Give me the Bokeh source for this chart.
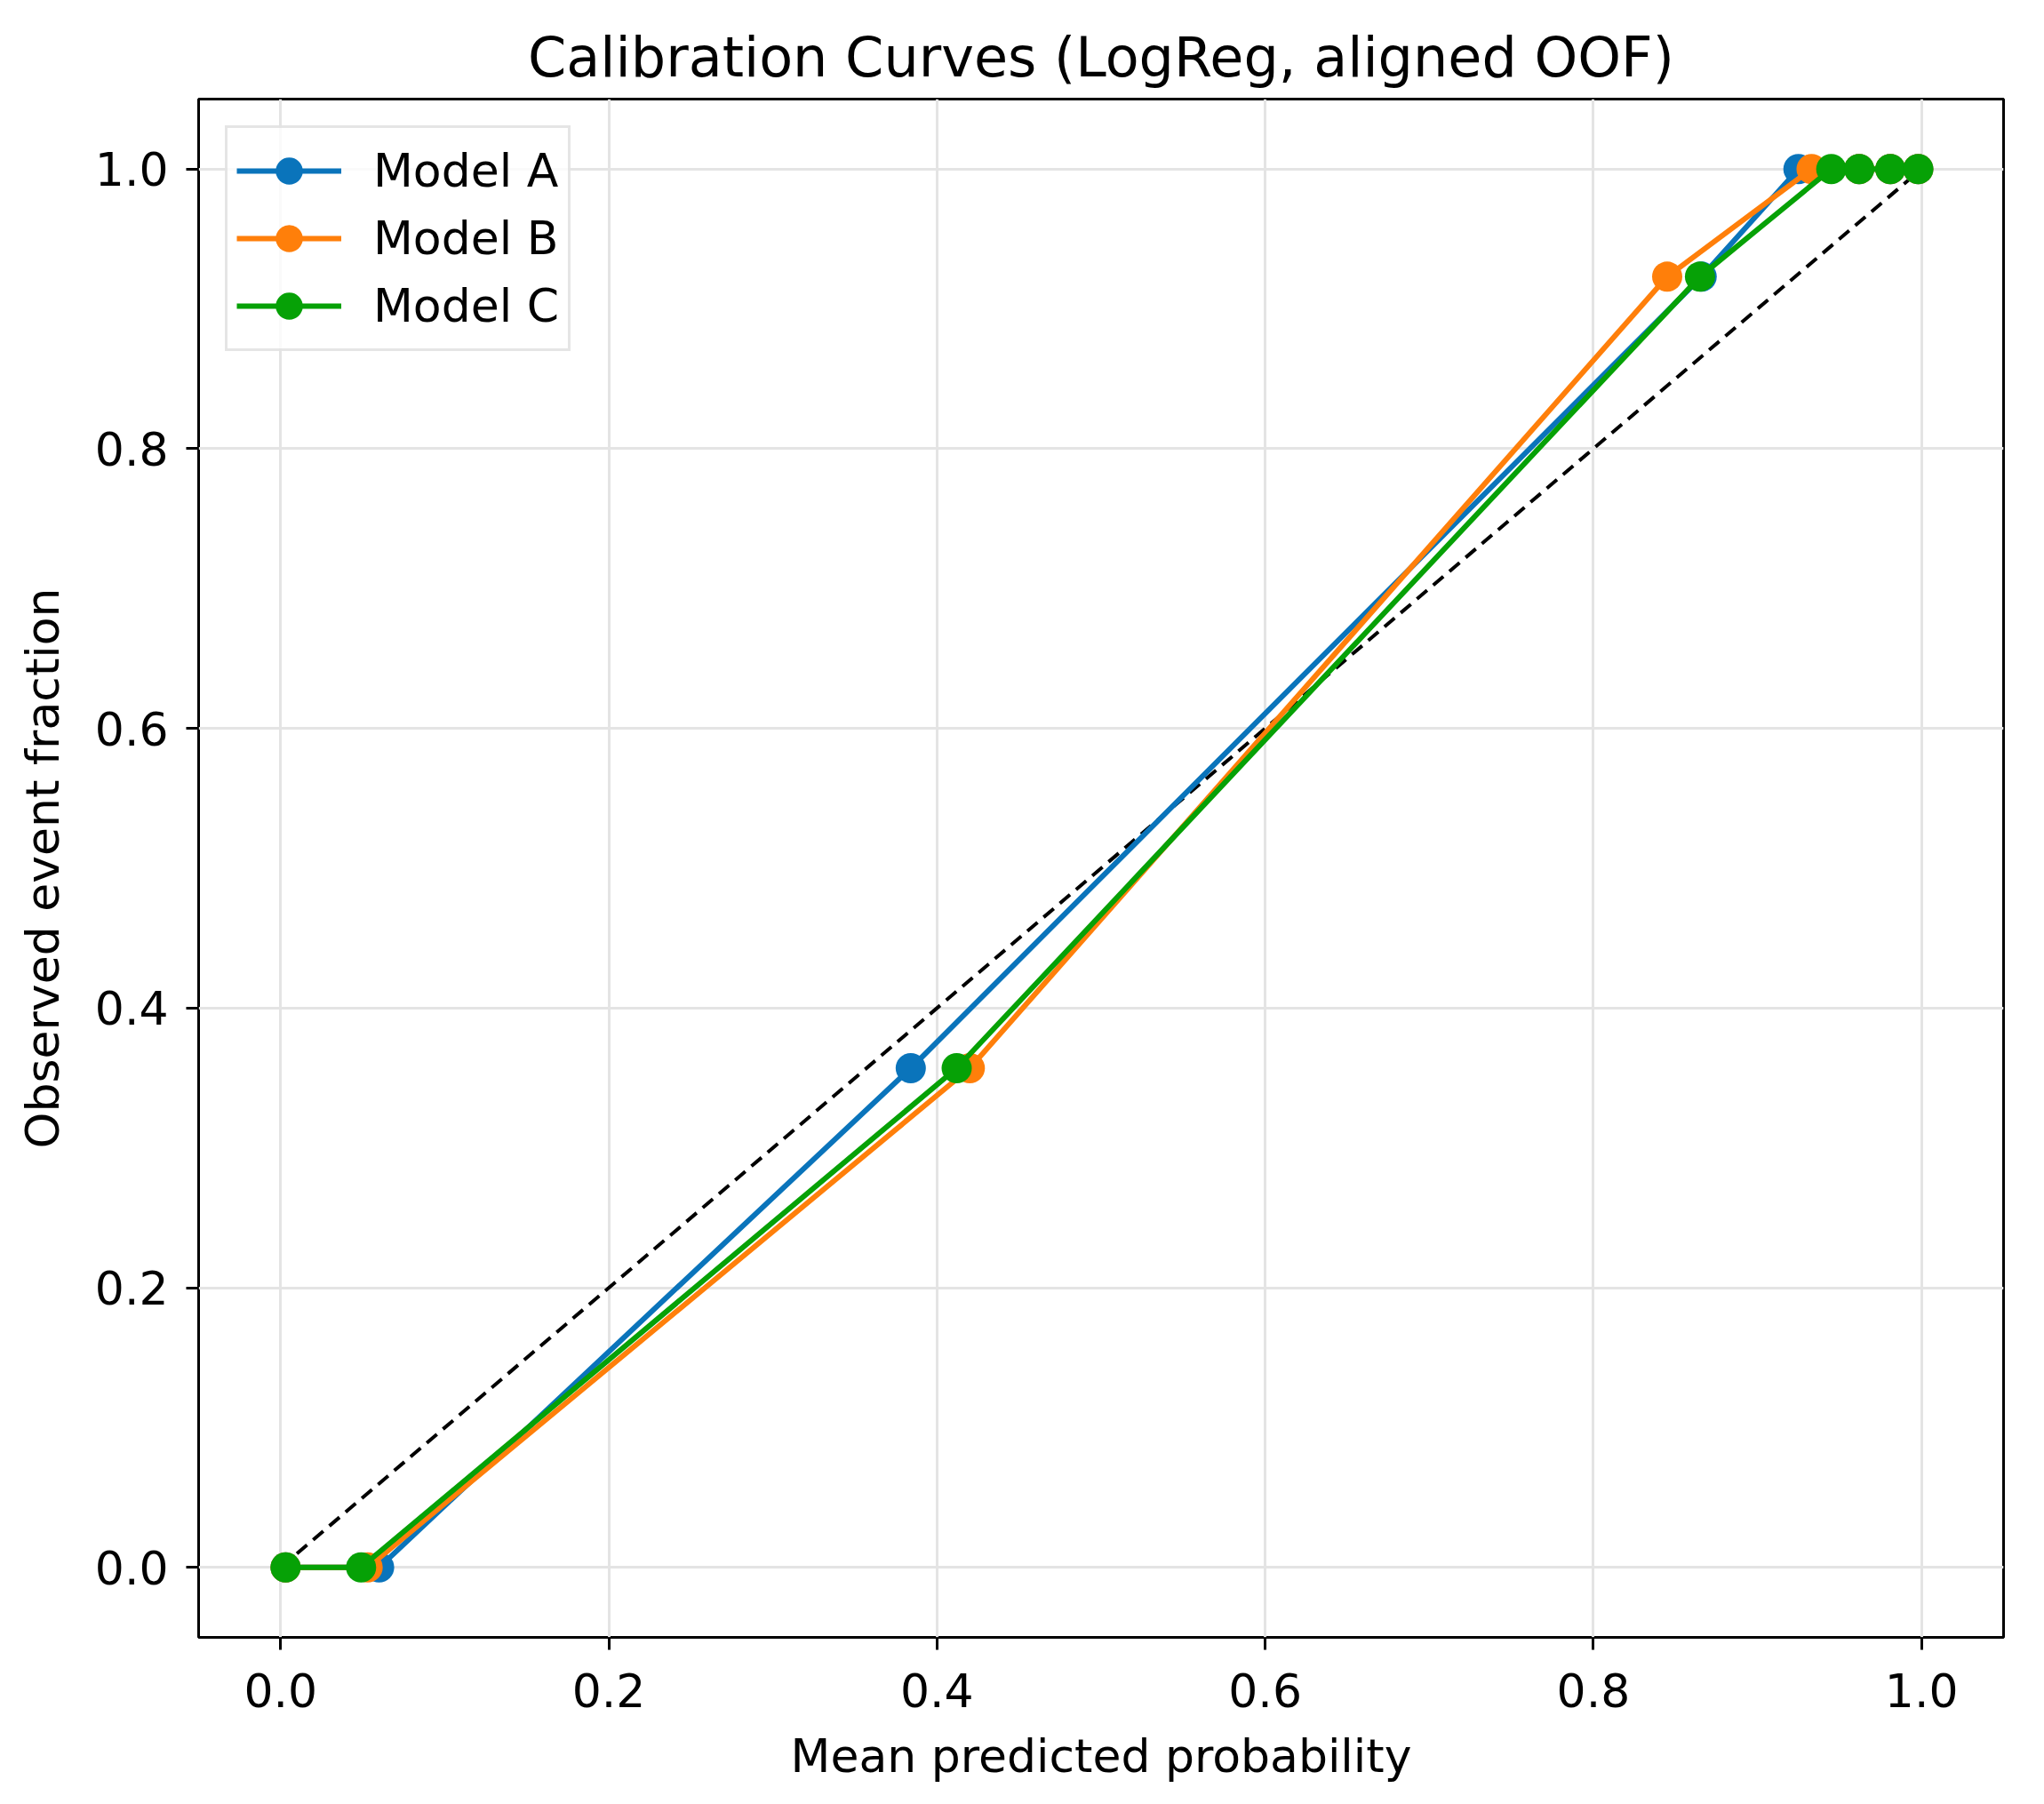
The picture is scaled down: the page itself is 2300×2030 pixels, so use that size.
from bokeh.plotting import figure
from bokeh.models import Range1d, FixedTicker, PrintfTickFormatter
from bokeh.embed import file_html
from bokeh.resources import INLINE

# ---- data ----
ticks = [0.0, 0.2, 0.4, 0.6, 0.8, 1.0]
diag_x = [0.0, 1.0]
diag_y = [0.0, 1.0]

a_x = [0.003, 0.060, 0.384, 0.866, 0.925, 0.962, 0.981, 0.998]
a_y = [0.0, 0.0, 0.357, 0.923, 1.0, 1.0, 1.0, 1.0]
b_x = [0.003, 0.053, 0.420, 0.845, 0.933, 0.962, 0.981, 0.998]
b_y = [0.0, 0.0, 0.357, 0.923, 1.0, 1.0, 1.0, 1.0]
c_x = [0.003, 0.049, 0.412, 0.865, 0.945, 0.962, 0.981, 0.998]
c_y = [0.0, 0.0, 0.357, 0.923, 1.0, 1.0, 1.0, 1.0]

series = [
    ("Model A", a_x, a_y, "#0a74bb"),
    ("Model B", b_x, b_y, "#ff7f0a"),
    ("Model C", c_x, c_y, "#06a106"),
]

FONT = "DejaVu Sans"

p = figure(width=2300, height=2030, output_backend="svg", toolbar_location=None,
           x_range=Range1d(-0.05, 1.05), y_range=Range1d(-0.05, 1.05),
           min_border_left=223, min_border_right=46, min_border_top=111,
           min_border_bottom=188,
           title="Calibration Curves (LogReg, aligned OOF)")

p.title.text_font = FONT
p.title.text_font_size = "62px"
p.title.text_font_style = "normal"
p.title.align = "center"
p.title.text_color = "black"
p.title.standoff = 22

p.background_fill_color = "white"
p.border_fill_color = "white"
p.outline_line_color = "black"
p.outline_line_width = 3
p.outline_line_alpha = 1.0

for ax in (p.xaxis[0], p.yaxis[0]):
    ax.ticker = FixedTicker(ticks=ticks)
    ax.formatter = PrintfTickFormatter(format="%.1f")
    ax.axis_line_color = None
    ax.major_tick_line_color = "black"
    ax.major_tick_line_width = 3
    ax.major_tick_out = 14
    ax.major_tick_in = 0
    ax.minor_tick_line_color = None
    ax.major_label_text_font = FONT
    ax.major_label_text_font_size = "52px"
    ax.major_label_text_color = "black"
    ax.axis_label_text_font = FONT
    ax.axis_label_text_font_size = "52px"
    ax.axis_label_text_font_style = "normal"
    ax.axis_label_text_color = "black"

p.xaxis.axis_label = "Mean predicted probability"
p.yaxis.axis_label = "Observed event fraction"
p.xaxis.major_label_standoff = 26
p.yaxis.major_label_standoff = 20
p.xaxis.axis_label_standoff = 22
p.yaxis.axis_label_standoff = 26

for g in (p.xgrid[0], p.ygrid[0]):
    g.ticker = FixedTicker(ticks=ticks)
    g.grid_line_color = "#e4e4e4"
    g.grid_line_width = 3

# diagonal reference
p.line(diag_x, diag_y, line_color="black", line_width=4, line_dash="15 9")

for name, xs, ys, col in series:
    p.line(xs, ys, line_color=col, line_width=6, legend_label=name)
    p.scatter(xs, ys, marker="circle", size=34, fill_color=col, line_color=col,
              line_width=0, legend_label=name)

lg = p.legend[0]
lg.location = "top_left"
lg.margin = 30
lg.padding = 10
lg.spacing = 0
lg.glyph_width = 118
lg.glyph_height = 76
lg.label_height = 60
lg.label_standoff = 36
lg.label_text_font = FONT
lg.label_text_font_size = "52px"
lg.label_text_color = "black"
lg.border_line_color = "#cccccc"
lg.border_line_width = 3
lg.background_fill_color = "white"
lg.background_fill_alpha = 0.8

open("out.html", "w").write(file_html(p, INLINE))
